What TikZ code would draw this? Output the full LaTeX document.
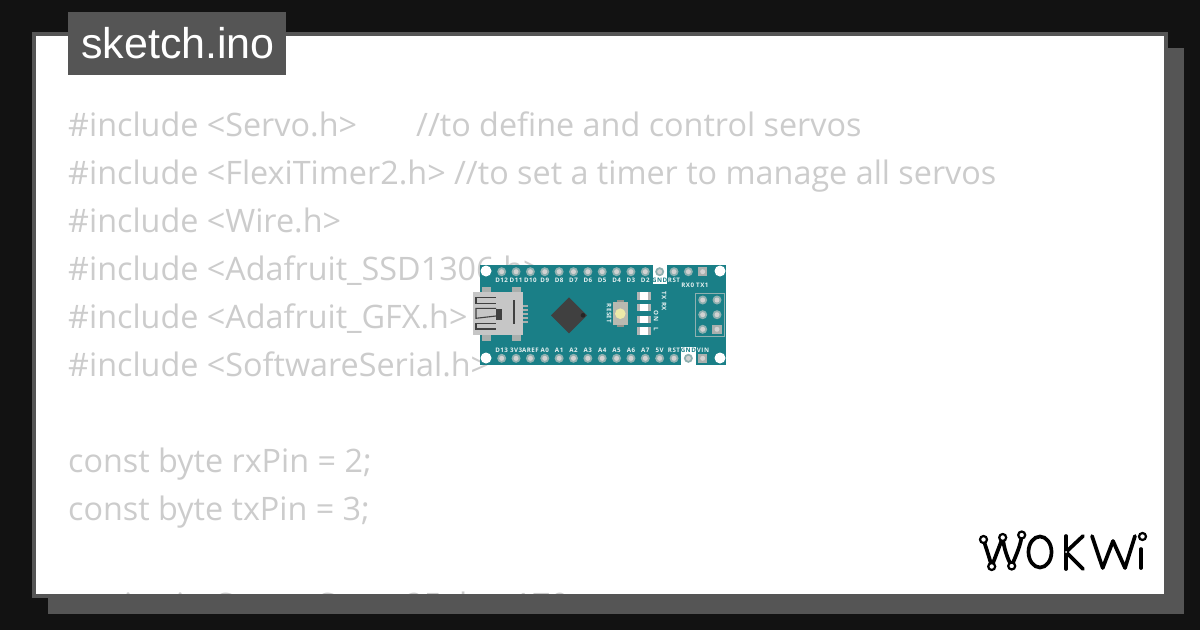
\documentclass[tikz,border=0pt]{standalone}
\usepackage{fontspec}
\setmainfont{Open Sans}
\newfontfamily\tabfont{Liberation Sans}
\definecolor{bgdark}{HTML}{121212}
\definecolor{framegray}{HTML}{555555}
\definecolor{codegray}{HTML}{CCCCCC}
\definecolor{boardteal}{HTML}{1A7F87}
\definecolor{pinring}{HTML}{8FB0B0}
\definecolor{pincore}{HTML}{D2D2D2}
\definecolor{usbgray}{HTML}{C6C6C6}
\definecolor{usbtab}{HTML}{A9AFAD}
\definecolor{chipgray}{HTML}{404040}
\definecolor{ledend}{HTML}{B5B5B5}
\definecolor{btnbody}{HTML}{B9B9B0}
\definecolor{btncap}{HTML}{EEE9A8}
\definecolor{labelwhite}{HTML}{E8F2F2}
\tikzset{
  code/.style={anchor=base west,inner sep=0pt,text=codegray,font=\fontsize{32.33}{32.33}\selectfont},
  pinhole/.style={circle,fill=pinring,minimum size=9pt,inner sep=0pt},
  pincenter/.style={circle,fill=pincore,minimum size=5pt,inner sep=0pt},
  pinlabel/.style={inner sep=0pt,text=labelwhite,font=\bfseries\fontsize{6.2}{6.2}\selectfont\addfontfeature{LetterSpace=8}},
  darklabel/.style={inner sep=0pt,text=boardteal,font=\bfseries\fontsize{6.2}{6.2}\selectfont\addfontfeature{LetterSpace=8}},
  cornerhole/.style={circle,fill=white,minimum size=11pt,inner sep=0pt},
  squarepin/.style={rectangle,fill=usbtab,minimum size=9.5pt,inner sep=0pt},
  logoline/.style={line width=3.7pt,line cap=round,line join=round,draw=black},
  logodot/.style={circle,draw=black,fill=white,line width=2.2pt,minimum size=7pt,inner sep=0pt},
  logotiny/.style={circle,fill=white,minimum size=2pt,inner sep=0pt},
  usbline/.style={line width=1.1pt,draw=chipgray}
}
\begin{document}
\begin{tikzpicture}[x=1pt,y=-1pt]
\useasboundingbox (0,0) rectangle (1200,630);
\fill[bgdark] (0,0) rectangle (1200,630);
\fill[framegray] (32,32) rectangle (1168,594);
\fill[framegray] (1168,48) rectangle (1184,594);
\fill[white] (36,36) rectangle (1164,594);
% code text, its last line cut off by the frame drawn after it
\node[code] (l1) at (68,136) {\#include <Servo.h>};
\node[code] (l1b) at (416,136) {//to define and control servos};
\node[code] (l2) at (68,184) {\#include <FlexiTimer2.h> //to set a timer to manage all servos};
\node[code] (l3) at (68,232) {\#include <Wire.h>};
\node[code] (l4) at (68,280) {\#include <Adafruit\_SSD1306.h>};
\node[code] (l5) at (68,328) {\#include <Adafruit\_GFX.h>};
\node[code] (l6) at (68,376) {\#include <SoftwareSerial.h>};
\node[code] (l7) at (68,472) {const byte rxPin = 2;};
\node[code] (l8) at (68,520) {const byte txPin = 3;};
\node[code] (l9a) at (124,616) {i};
\node[code] (l9b) at (176,616) {i};
\node[code] (l9c) at (216,616) {Servo};
\node[code] (l9d) at (318,616) {Servo};
\node[code] (l9e) at (405,616) {25};
\node[code] (l9f) at (459,616) {l};
\node[code] (l9g) at (513.5,616) {170};
% frame bottom and shadow over the cut text
\fill[bgdark] (0,594) rectangle (1200,630);
\fill[framegray] (48,594) rectangle (1184,614);
\fill[framegray] (32,594) rectangle (1168,598);
% tab
\fill[framegray] (68,12) rectangle (286,75);
\node[anchor=base west,inner sep=0pt,text=white,font=\tabfont\fontsize{43}{43}\selectfont] (tab) at (81,58) {sketch.ino};
% board
\fill[boardteal] (480,265) rectangle (726,365);
\fill[white] (652.7,265) rectangle (666.7,283.5);
\fill[white] (681,347) rectangle (695.7,365);
\node[cornerhole] (c1) at (486,271) {};
\node[cornerhole] (c2) at (720,271) {};
\node[cornerhole] (c3) at (486,358) {};
\node[cornerhole] (c4) at (720,358) {};
% pins
\foreach \i in {0,...,13} {
  \pgfmathsetmacro{\px}{501.7+14.36*\i}
  \node[pinhole] (t\i) at (\px,271.7) {};
  \node[pincenter] (tc\i) at (\px,271.7) {};
  \node[pinhole] (b\i) at (\px,358.3) {};
  \node[pincenter] (bc\i) at (\px,358.3) {};
}
\node[squarepin] (txpin) at (702.7,271.7) {};
\node[pincenter] (txcore) at (702.7,271.7) {};
\node[squarepin] (vinpin) at (702.7,358.3) {};
\node[pincenter] (vincore) at (702.7,358.3) {};
% top labels
\foreach \t [count=\i from 0] in {D12,D11,D10,D9,D8,D7,D6,D5,D4,D3,D2} {
  \pgfmathsetmacro{\px}{501.7+14.36*\i}
  \node[pinlabel] (tl\i) at (\px,280) {\t};
}
\node[darklabel] (tlgnd) at (659.7,280) {GND};
\node[pinlabel] (tlrst) at (674,280) {RST};
\node[pinlabel] (tlrx) at (687.7,285) {RX0};
\node[pinlabel] (tltx) at (702.3,285) {TX1};
% bottom labels
\foreach \t [count=\i from 0] in {D13,3V3,AREF,A0,A1,A2,A3,A4,A5,A6,A7,5V,RST} {
  \pgfmathsetmacro{\px}{501.7+14.36*\i}
  \node[pinlabel] (bl\i) at (\px,350) {\t};
}
\node[darklabel] (blgnd) at (688.3,350) {GND};
\node[pinlabel] (blvin) at (703,350) {VIN};
% USB connector
\fill[usbtab] (482.3,286.7) rectangle (491,292);
\fill[usbtab] (512.3,286.7) rectangle (521,292);
\fill[usbtab] (482.3,335) rectangle (491,340.7);
\fill[usbtab] (512.3,335) rectangle (521,340.7);
\foreach \yy in {305.5,309.5,313.7,317.7,322} {
  \fill[usbtab] (522,\yy-1) rectangle (527.5,\yy+1);
}
\fill[usbgray] (473,292) rectangle (522.5,335);
\draw[usbline] (495.7,297.7) -- (476,297.7) -- (476,303.3) -- (495.7,303.3);
\draw[usbline] (495.7,323.3) -- (476,323.3) -- (476,329) -- (495.7,329);
\draw[usbline] (496,308.3) -- (476,308.3) -- (476,318.3) -- (496,316);
\fill[chipgray] (496,309) rectangle (502,320);
\fill[chipgray] (513,300) rectangle (514.6,324);
% chip
\fill[chipgray] (569,297.3) -- (587,315.3) -- (569,333.3) -- (551,315.3) -- cycle;
\fill[black!85] (583,315.3) circle (2.3pt);
% reset
\fill[btnbody!80!black] (617,300) rectangle (624,327);
\fill[btnbody] (613,302) rectangle (627.7,325);
\fill[btncap] (620.3,313.7) circle (5.3pt);
\node[pinlabel,rotate=-90] (rst) at (609,313.5) {RESET};
% LEDs
\foreach \yy in {296,307.6,319.2,330.8} {
  \fill[ledend] (636.7,\yy-3.7) rectangle (651,\yy+3.7);
  \fill[white] (640,\yy-3.7) rectangle (647.7,\yy+3.7);
}
\node[pinlabel,rotate=-90] (txl) at (664,296) {TX};
\node[pinlabel,rotate=-90] (rxl) at (664,306.5) {RX};
\node[pinlabel,rotate=-90] (onl) at (656,316) {ON};
\node[pinlabel,rotate=-90] (ll) at (656,329.5) {L};
% ICSP
\draw[pinring,line width=.8pt] (695.3,293.3) rectangle (724.3,336.3);
\foreach \cx/\cy/\nm in {702.7/300/a,717/300/b,702.7/314.7/c,717/314.7/d,702.7/329.3/e} {
  \node[pinhole] (ic\nm) at (\cx,\cy) {};
  \node[pincenter] (icc\nm) at (\cx,\cy) {};
}
\node[squarepin] (icf) at (717,329.3) {};
\node[pincenter] (iccf) at (717,329.3) {};
% Wokwi logo
\draw[logoline] (983.5,539.5) .. controls (986,548) and (989,556) .. (991.7,566.5) -- (1002.7,537.5);
\draw[logoline] (1002.7,537.5) .. controls (1004,548) and (1007,558) .. (1011.7,566) .. controls (1016,555) and (1021,545) .. (1021.7,535);
\node[logodot] (w1) at (983.5,539.5) {};
\node[logodot] (w2) at (1002.7,537.5) {};
\node[logodot] (w3) at (1021.7,535) {};
\node[logodot] (w4) at (991.7,566.5) {};
\node[logodot] (w5) at (1011.7,566) {};
\draw[logoline] (1040,552) circle [x radius=11.5pt,y radius=15.5pt];
\draw[logoline] (1066,536) -- (1066,569);
\draw[logoline] (1083,536) -- (1066,552) -- (1083,569);
\node[logotiny] (kdot) at (1066,552) {};
\draw[logoline] (1092,536) -- (1102.7,568) -- (1113,541) -- (1125,568) -- (1135,536);
\draw[logoline] (1141,549) -- (1141,568);
\node[logodot] (w6) at (1142.5,536.5) {};
\end{tikzpicture}
\end{document}
